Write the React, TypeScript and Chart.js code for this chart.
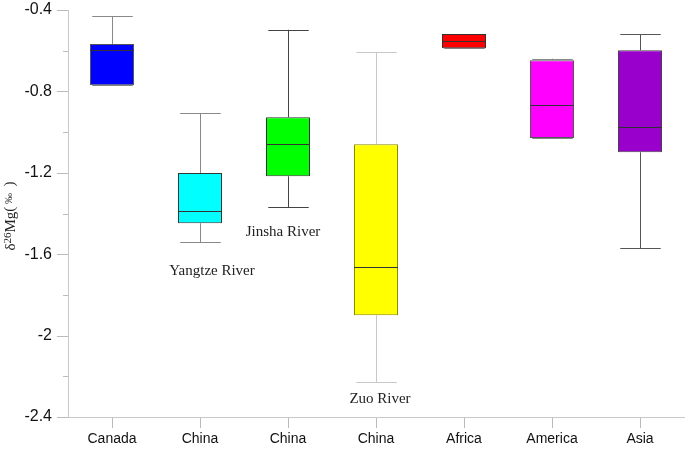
import React, { useEffect, useRef } from "react";
import { Chart, registerables } from "chart.js";

Chart.register(...registerables);

const categories = ["Canada", "China", "China", "China", "Africa", "America", "Asia"];
const whiskerMax = [-0.43, -0.908, -0.497, -0.608, -0.518, -0.639, -0.518];
const q3Values = [-0.567, -1.201, -0.927, -1.06, -0.518, -0.647, -0.598];
const medianValues = [-0.598, -1.389, -1.06, -1.664, -0.551, -0.868, -0.976];
const q1Values = [-0.77, -1.448, -1.217, -1.9, -0.588, -1.029, -1.099];
const whiskerMin = [-0.77, -1.54, -1.368, -2.23, -0.588, -1.029, -1.571];
const boxColors = ["#0000FF", "#00FFFF", "#00FF00", "#FFFF00", "#FF0000", "#FF00FF", "#9900CC"];
const boxBorders = ["#555555", "#333333", "#333333", "#8a8a00", "#333333", "#555555", "#444444"];
const whiskerColors = ["#888888", "#888888", "#444444", "#c8c8c8", "#888888", "#888888", "#555555"];
const annotations = [
  { index: 1, value: -1.681, text: "Yangtze River" },
  { index: 2, value: -1.489, text: "Jinsha River" },
  { index: 3, value: -2.312, text: "Zuo River" },
];
const yMin = -2.4;
const yMax = -0.4;
const yStep = 0.2;

const boxPlugin = {
  id: "boxExtras",
  beforeDatasetsDraw(chart: any) {
    const { ctx } = chart;
    const x = chart.scales.x;
    const y = chart.scales.y;
    const halfCap = (x.getPixelForValue(1) - x.getPixelForValue(0)) * 0.23;
    ctx.save();
    ctx.lineWidth = 1;
    categories.forEach((_, i) => {
      const cx = Math.round(x.getPixelForValue(i)) + 0.5;
      ctx.strokeStyle = whiskerColors[i];
      const top = y.getPixelForValue(whiskerMax[i]);
      const q3 = y.getPixelForValue(q3Values[i]);
      const q1 = y.getPixelForValue(q1Values[i]);
      const bot = y.getPixelForValue(whiskerMin[i]);
      ctx.beginPath();
      ctx.moveTo(cx, top);
      ctx.lineTo(cx, q3);
      ctx.moveTo(cx, q1);
      ctx.lineTo(cx, bot);
      ctx.moveTo(cx - halfCap, Math.round(top) + 0.5);
      ctx.lineTo(cx + halfCap, Math.round(top) + 0.5);
      ctx.moveTo(cx - halfCap, Math.round(bot) + 0.5);
      ctx.lineTo(cx + halfCap, Math.round(bot) + 0.5);
      ctx.stroke();
    });
    ctx.restore();
  },
  afterDatasetsDraw(chart: any) {
    const { ctx } = chart;
    const x = chart.scales.x;
    const y = chart.scales.y;
    const halfBox = (x.getPixelForValue(1) - x.getPixelForValue(0)) * 0.25;
    ctx.save();
    ctx.lineWidth = 1;
    categories.forEach((_, i) => {
      const cx = x.getPixelForValue(i);
      const my = Math.round(y.getPixelForValue(medianValues[i])) + 0.5;
      ctx.strokeStyle = "#333333";
      ctx.beginPath();
      ctx.moveTo(cx - halfBox, my);
      ctx.lineTo(cx + halfBox, my);
      ctx.stroke();
    });
    // annotations
    ctx.fillStyle = "#222222";
    ctx.font = "15px 'Liberation Serif', 'Times New Roman', serif";
    ctx.textAlign = "center";
    ctx.textBaseline = "middle";
    annotations.forEach((a) => {
      const ax = x.getPixelForValue(a.index) + (a.index === 1 ? 12 : a.index === 2 ? -5 : 4);
      ctx.fillText(a.text, ax, y.getPixelForValue(a.value));
    });
    // y-axis tick marks
    ctx.strokeStyle = "#bbbbbb";
    y.ticks.forEach((t: any) => {
      const v = t.value;
      const major = Math.abs(Math.round(v / 0.4) * 0.4 - v) < 1e-6;
      const py = Math.round(y.getPixelForValue(v)) + 0.5;
      ctx.beginPath();
      ctx.moveTo(y.right - (major ? 11 : 5), py);
      ctx.lineTo(y.right, py);
      ctx.stroke();
    });
    // y-axis title
    ctx.translate(11, 216);
    ctx.rotate(-Math.PI / 2);
    ctx.fillStyle = "#222222";
    ctx.textAlign = "left";
    ctx.textBaseline = "middle";
    const big = "15px 'Liberation Serif', 'Times New Roman', serif";
    const small = "11px 'Liberation Serif', 'Times New Roman', serif";
    const parts = [
      { t: "\u03b4", f: big, dy: 0 },
      { t: "26", f: small, dy: -3 },
      { t: "Mg", f: big, dy: 0 },
      { t: "(", f: big, dy: -1 },
      { t: " \u2030 ", f: small, dy: -2 },
      { t: " )", f: big, dy: -1 },
    ];
    let total = 0;
    parts.forEach((p) => {
      ctx.font = p.f;
      total += ctx.measureText(p.t).width;
    });
    let px = -total / 2;
    parts.forEach((p) => {
      ctx.font = p.f;
      ctx.fillText(p.t, px, p.dy);
      px += ctx.measureText(p.t).width;
    });
    ctx.restore();
  },
};

export default function App() {
  const canvasRef = useRef<HTMLCanvasElement | null>(null);

  useEffect(() => {
    if (!canvasRef.current) return;
    const chart = new Chart(canvasRef.current, {
      type: "bar",
      data: {
        labels: categories,
        datasets: [
          {
            data: q1Values.map((v, i) => [v, q3Values[i]]) as any,
            backgroundColor: boxColors,
            borderColor: boxBorders,
            borderWidth: 1,
            borderSkipped: false,
            barPercentage: 0.5,
            categoryPercentage: 1,
          },
        ],
      },
      options: {
        responsive: false,
        animation: false,
        layout: { padding: { top: 10, right: 1, left: 0, bottom: 0 } },
        plugins: {
          legend: { display: false },
          tooltip: { enabled: false },
        },
        scales: {
          x: {
            offset: true,
            grid: {
              offset: false,
              drawOnChartArea: false,
              drawTicks: true,
              tickLength: 11,
              color: "#bbbbbb",
            },
            border: { display: true, color: "#c8c8c8", width: 1 },
            ticks: {
              color: "#111111",
              font: { family: "'Liberation Sans', Arial, sans-serif", size: 14 },
              padding: 3,
              maxRotation: 0,
              autoSkip: false,
            },
            afterFit(scale: any) {
              scale.height = 33;
              scale.paddingLeft = 0;
              scale.paddingRight = 0;
            },
          },
          y: {
            min: yMin,
            max: yMax,
            grid: { display: false, drawTicks: false },
            border: { display: true, color: "#c8c8c8", width: 1 },
            ticks: {
              stepSize: yStep,
              color: "#111111",
              padding: 16,
              font: { family: "'Liberation Sans', Arial, sans-serif", size: 16 },
              callback(value: any) {
                const v = Number(value);
                const major = Math.abs(Math.round(v / 0.4) * 0.4 - v) < 1e-6;
                if (!major) return "";
                const r = Math.round(v * 10) / 10;
                return String(r);
              },
            },
            afterFit(scale: any) {
              scale.width = 68;
              scale.paddingTop = 0;
              scale.paddingBottom = 0;
            },
          },
        },
      },
      plugins: [boxPlugin],
    });
    return () => chart.destroy();
  }, []);

  return (
    <div style={{ position: "absolute", left: 0, top: 0, width: 685, height: 450 }}>
      <canvas ref={canvasRef} width={685} height={450} style={{ width: 685, height: 450 }} />
    </div>
  );
}
